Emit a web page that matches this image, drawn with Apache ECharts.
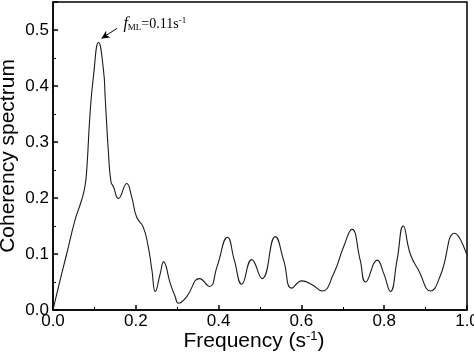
<!DOCTYPE html>
<html><head><meta charset="utf-8">
<script src="https://cdn.jsdelivr.net/npm/echarts@6/dist/echarts.min.js"></script>
<style>html,body{margin:0;padding:0;background:#fff}#c{width:474px;height:354px}</style>
</head><body><div id="c"></div>
<script>
var freq = [0.000,0.017,0.033,0.053,0.069,0.077,0.0815,0.0895,0.0975,0.110,0.122,0.126,0.134,0.140,0.146,0.158,0.178,0.190,0.202,0.218,0.230,0.239,0.247,0.259,0.267,0.283,0.295,0.303,0.323,0.354,0.378,0.396,0.4215,0.438,0.456,0.480,0.505,0.537,0.557,0.577,0.601,0.626,0.650,0.678,0.702,0.722,0.742,0.755,0.783,0.799,0.815,0.831,0.846,0.863,0.883,0.912,0.936,0.9705,1.000];
var coh  = [0.000,0.053,0.100,0.160,0.196,0.220,0.250,0.351,0.416,0.478,0.428,0.380,0.280,0.229,0.220,0.199,0.226,0.202,0.166,0.148,0.113,0.071,0.033,0.065,0.086,0.048,0.024,0.012,0.024,0.056,0.042,0.077,0.130,0.089,0.046,0.090,0.056,0.131,0.089,0.039,0.052,0.045,0.034,0.065,0.113,0.144,0.089,0.050,0.089,0.065,0.033,0.089,0.150,0.100,0.071,0.034,0.062,0.137,0.098];
var xTicks = ['0.0','0.2','0.4','0.6','0.8','1.0'];
var yTicks = ['0.0','0.1','0.2','0.3','0.4','0.5'];

var data = freq.map(function(f,i){return [f, coh[i]];});
var chart = echarts.init(document.getElementById('c'));
var font = 'Liberation Sans';
chart.setOption({
  animation:false,
  grid:{left:53,right:7,top:2,bottom:44,containLabel:false,outerBoundsMode:'none',show:true,borderColor:'#000',borderWidth:1.5,backgroundColor:'transparent'},
  xAxis:{type:'value',min:0,max:1,interval:0.2,
    name:'{a|Frequency (s}{s|-1}{a|)}',nameLocation:'middle',nameGap:20,nameMoveOverlap:false,
    nameTextStyle:{padding:[0,12,0,0],rich:{a:{fontFamily:font,fontSize:21,color:'#000'},s:{fontFamily:font,fontSize:13,color:'#000',verticalAlign:'top',padding:[0,0,9,0]}}},
    axisLine:{lineStyle:{color:'#000',width:1.5}},
    axisTick:{inside:true,length:5,lineStyle:{color:'#000',width:1.5}},
    minorTick:{show:true,splitNumber:2,length:3,lineStyle:{color:'#000',width:1}},
    splitLine:{show:false},
    axisLabel:{fontFamily:font,fontSize:17,color:'#000',margin:3,formatter:function(v){return xTicks[Math.round(v/0.2)];}}
  },
  yAxis:{type:'value',min:0,max:0.55,interval:0.1,
    name:'Coherency spectrum',nameLocation:'middle',nameGap:34,nameMoveOverlap:false,
    nameTextStyle:{fontFamily:font,fontSize:21,color:'#000'},
    axisLine:{lineStyle:{color:'#000',width:1.5}},
    axisTick:{inside:true,length:5,lineStyle:{color:'#000',width:1.5}},
    minorTick:{show:true,splitNumber:2,length:3,lineStyle:{color:'#000',width:1}},
    splitLine:{show:false},
    axisLabel:{fontFamily:font,fontSize:17,color:'#000',margin:4,showMaxLabel:false,
      formatter:function(v){var i=Math.round(v/0.1);return (Math.abs(v-i*0.1)<1e-6 && yTicks[i])?yTicks[i]:'';}}
  },
  series:[{type:'line',data:data,smooth:0.5,showSymbol:false,
    lineStyle:{color:'#1a1a1a',width:1.1},
    markLine:{silent:true,symbol:['none','arrow'],symbolSize:[6,8],
      lineStyle:{color:'#000',width:1,type:'solid'},label:{show:false},
      data:[[{coord:[0.155,0.503]},{coord:[0.117,0.485]}]]},
    markPoint:{silent:true,symbol:'circle',symbolSize:0,
      data:[{coord:[0.170,0.511],
        label:{show:true,position:'right',distance:0,
          formatter:'{f|f}{m|ML}{t|=0.11s}{s|-1}',
          rich:{f:{fontFamily:'Liberation Serif',fontStyle:'italic',fontSize:16,color:'#000'},
                m:{fontFamily:'Liberation Serif',fontSize:9,color:'#000',verticalAlign:'bottom',padding:[6,0,0,0]},
                t:{fontFamily:'Liberation Serif',fontSize:14,color:'#000'},
                s:{fontFamily:'Liberation Serif',fontSize:9,color:'#000',verticalAlign:'top',padding:[0,0,6,0]}}}}]}
  }]
});
</script></body></html>
